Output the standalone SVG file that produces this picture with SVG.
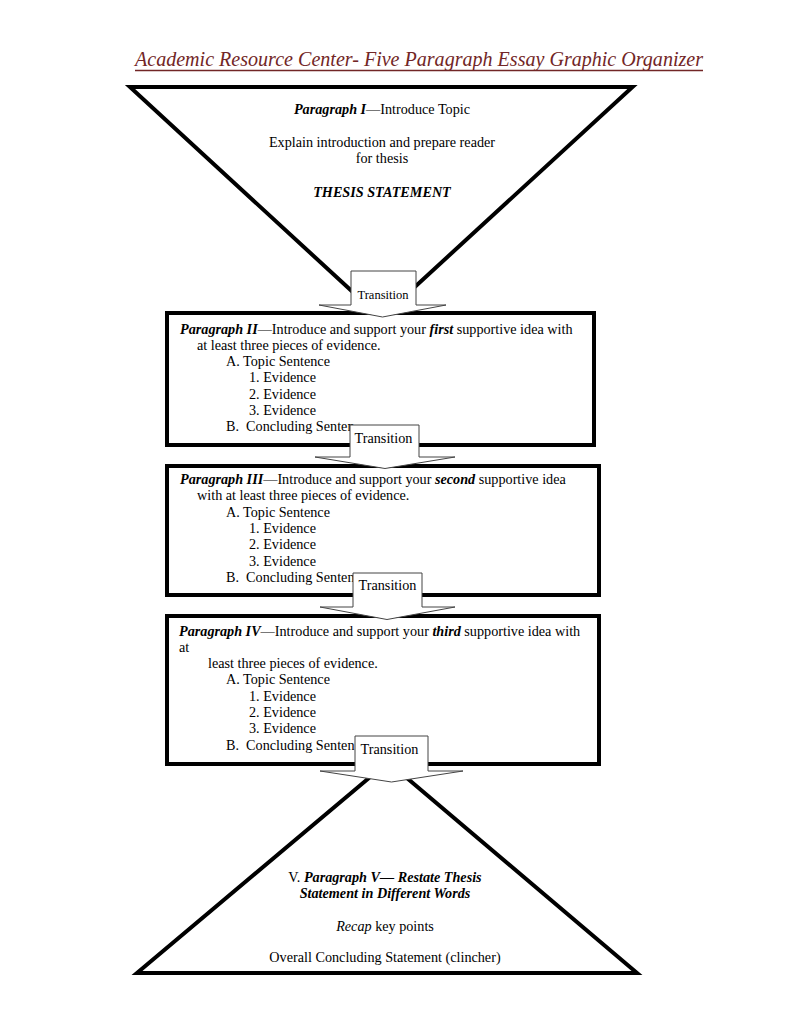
<svg xmlns="http://www.w3.org/2000/svg" width="791" height="1024" viewBox="0 0 791 1024">
<style>
text{font-family:"Liberation Serif","Times New Roman",serif;font-size:14.2px;fill:#000}
.bi{font-weight:bold;font-style:italic}
.it{font-style:italic}
.c{text-anchor:middle}
.shape{fill:#fff;stroke:#000;stroke-width:4;stroke-linejoin:miter}
.arrow{fill:#fff;stroke:#444;stroke-width:1}
.title{font-size:22px;font-style:italic;fill:#722626}
</style>
<rect x="0" y="0" width="791" height="1024" fill="#fff"/>
<g id="title">
<text class="title" x="135" y="66" textLength="568" lengthAdjust="spacingAndGlyphs">Academic Resource Center- Five Paragraph Essay Graphic Organizer</text>
<line x1="135" y1="70.5" x2="703" y2="70.5" stroke="#722626" stroke-width="1.5"/>
</g>
<g id="p1">
<polygon class="shape" points="130,87 632.5,87 381,318"/>
<text class="c" x="382" y="114"><tspan class="bi">Paragraph I</tspan>—Introduce Topic</text>
<text class="c" x="382" y="147">Explain introduction and prepare reader</text>
<text class="c" x="382" y="163">for thesis</text>
<text class="c bi" x="382" y="197">THESIS STATEMENT</text>
</g>
<g id="p2">
<rect class="shape" x="167" y="313" width="427" height="132"/>
<text x="180" y="333.5"><tspan class="bi">Paragraph II</tspan>—Introduce and support your <tspan class="bi">first</tspan> supportive idea with</text>
<text x="197" y="349.8">at least three pieces of evidence.</text>
<text x="226" y="366.1">A. Topic Sentence</text>
<text x="249" y="382.4">1. Evidence</text>
<text x="249" y="398.7">2. Evidence</text>
<text x="249" y="415">3. Evidence</text>
<text x="226" y="431.3" xml:space="preserve">B.  Concluding Senten</text>
</g>
<g id="p3">
<rect class="shape" x="167" y="466" width="432" height="129"/>
<text x="180" y="484"><tspan class="bi">Paragraph III</tspan>—Introduce and support your <tspan class="bi">second</tspan> supportive idea</text>
<text x="197" y="500.3">with at least three pieces of evidence.</text>
<text x="226" y="516.6">A. Topic Sentence</text>
<text x="249" y="532.9">1. Evidence</text>
<text x="249" y="549.2">2. Evidence</text>
<text x="249" y="565.5">3. Evidence</text>
<text x="226" y="581.8" xml:space="preserve">B.  Concluding Senten</text>
</g>
<g id="p4">
<rect class="shape" x="167" y="616" width="432" height="148"/>
<text x="179" y="635.5"><tspan class="bi">Paragraph IV</tspan>—Introduce and support your <tspan class="bi">third</tspan> supportive idea with</text>
<text x="179" y="651.8">at</text>
<text x="208" y="668.1">least three pieces of evidence.</text>
<text x="226" y="684.4">A. Topic Sentence</text>
<text x="249" y="700.7">1. Evidence</text>
<text x="249" y="717">2. Evidence</text>
<text x="249" y="733.3">3. Evidence</text>
<text x="226" y="749.6" xml:space="preserve">B.  Concluding Senten</text>
</g>
<g id="p5">
<polygon class="shape" points="388,762 637,973 137,973"/>
<text class="c" x="385" y="882">V. <tspan class="bi">Paragraph V— Restate Thesis</tspan></text>
<text class="c bi" x="385" y="897.5">Statement in Different Words</text>
<text class="c" x="385" y="931"><tspan class="it">Recap</tspan> key points</text>
<text class="c" x="385" y="962">Overall Concluding Statement (clincher)</text>
</g>
<g id="connectors">
<g id="t1">
<polygon class="arrow" points="351,271 416,271 416,305 446,305 382.5,317 319,305 351,305"/>
<text class="c" x="383" y="299" style="font-size:12.5px">Transition</text>
</g>
<g id="t2">
<polygon class="arrow" points="350,425 419,425 419,457 455,457 385,468.5 315,457 350,457"/>
<text class="c" x="383.5" y="442.5">Transition</text>
</g>
<g id="t3">
<polygon class="arrow" points="353,573 422,573 422,607 455,607 387,619.5 320,607 353,607"/>
<text class="c" x="387.5" y="589.5">Transition</text>
</g>
<g id="t4">
<polygon class="arrow" points="355,736 428,736 428,771 463,771 391.5,782 320,771 355,771"/>
<text class="c" x="389.5" y="754">Transition</text>
</g>
</g>
</svg>
